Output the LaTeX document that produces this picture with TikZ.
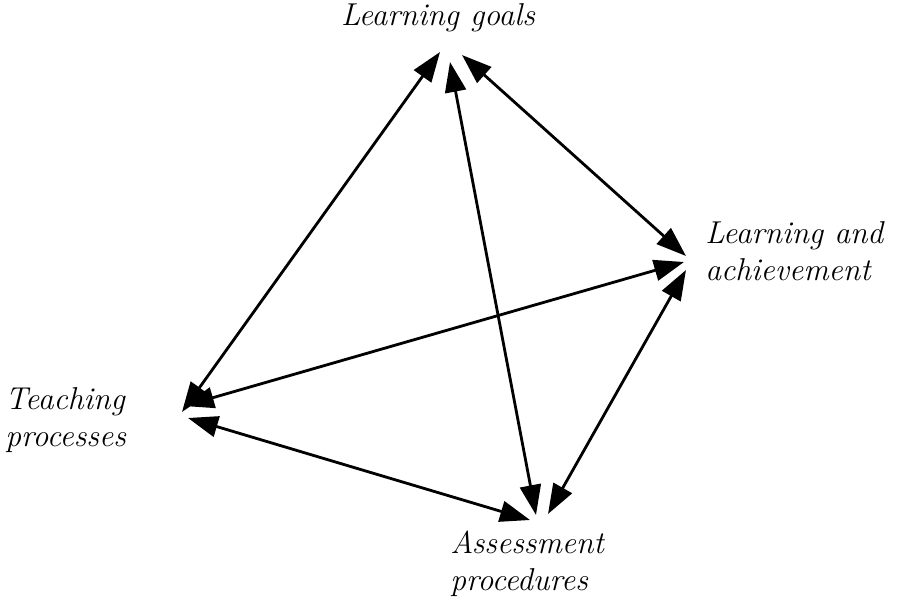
\documentclass[tikz,border=0pt]{standalone}
\usetikzlibrary{arrows.meta}
\begin{document}
\begin{tikzpicture}[x=0.02cm,y=-0.02cm,
  lbl/.style={font=\fontsize{18}{21}\selectfont\itshape,inner sep=0pt},
  link/.style={line width=1.6pt,{Triangle[length=0.6cm,width=0.42cm]}-{Triangle[length=0.6cm,width=0.42cm]}}]
\useasboundingbox (0,0) rectangle (900,605);
\node[lbl] (lg) at (438,18) {Learning goals};
\node[lbl,align=left,anchor=west] (la) at (705,251) {Learning and\\achievement};
\node[lbl,align=left,anchor=west] (tp) at (5,420) {Teaching\\processes};
\node[lbl,align=left,anchor=west] (ap) at (450,564) {Assessment\\procedures};
\coordinate (g1) at (440,52); \coordinate (g2) at (450,62); \coordinate (g3) at (462,55);
\coordinate (l1) at (686,256); \coordinate (l2) at (684,262); \coordinate (l3) at (686,270);
\coordinate (t1) at (182,412); \coordinate (t2) at (184,406); \coordinate (t3) at (188,418);
\coordinate (a1) at (536,515); \coordinate (a2) at (548,514); \coordinate (a3) at (530,520);
\draw[link] (g1) -- (t1);
\draw[link] (g2) -- (a1);
\draw[link] (g3) -- (l1);
\draw[link] (l2) -- (t2);
\draw[link] (l3) -- (a2);
\draw[link] (t3) -- (a3);
\end{tikzpicture}
\end{document}
